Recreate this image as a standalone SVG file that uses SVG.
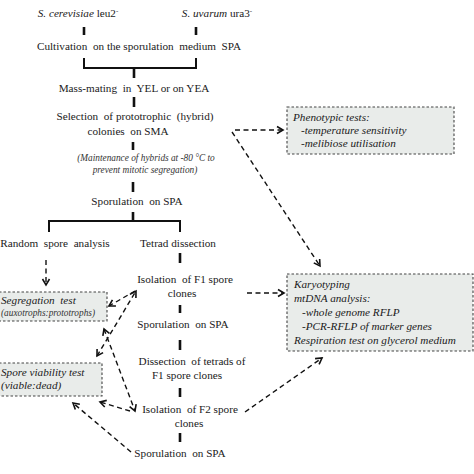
<svg xmlns="http://www.w3.org/2000/svg" width="474" height="474" viewBox="0 0 474 474">
<style>
text{white-space:pre}
.t{font-family:"Liberation Serif","Times New Roman",serif;font-size:11.2px;fill:#1a1a1a}
.m{text-anchor:middle}
.i{font-style:italic}
.s{font-family:"Liberation Serif","Times New Roman",serif;font-size:9.3px;font-style:italic;fill:#333}
.st{stroke:#111;stroke-width:2.6;fill:none}
.br{stroke:#111;stroke-width:2;fill:none}
.d{stroke:#111;stroke-width:1.4;fill:none;stroke-dasharray:5 3.5}
.box{fill:#e9ecea;stroke:#444;stroke-width:1.1;stroke-dasharray:2.5 2}
</style>
<defs>
<marker id="ah" markerUnits="userSpaceOnUse" markerWidth="10" markerHeight="10" refX="7" refY="4" orient="auto-start-reverse" viewBox="0 0 10 8">
<path d="M1,0.5 L7,4 L1,7.5" fill="none" stroke="#111" stroke-width="1.6"/>
</marker>
</defs>
<rect width="474" height="474" fill="#ffffff"/>

<g id="boxes">
<g id="phenotypic"><rect class="box" x="287" y="107" width="167" height="47"/>
<text class="t i" x="293" y="121">Phenotypic tests:</text>
<text class="t i" x="301" y="134">-temperature sensitivity</text>
<text class="t i" x="301" y="147">-melibiose utilisation</text></g>
<g id="karyotyping"><rect class="box" x="287" y="274" width="186" height="77"/>
<text class="t i" x="294" y="288">Karyotyping</text>
<text class="t i" x="294" y="302">mtDNA analysis:</text>
<text class="t i" x="302" y="316">-whole genome RFLP</text>
<text class="t i" x="302" y="330">-PCR-RFLP of marker genes</text>
<text class="t i" x="294" y="344">Respiration test on glycerol medium</text></g>
<g id="segregation"><rect class="box" x="-1" y="292" width="108" height="29"/>
<text class="t i" x="1" y="304">Segregation  test</text>
<text class="s" x="1" y="316">(auxotrophs:prototrophs)</text></g>
<g id="viability"><rect class="box" x="-1" y="363" width="103" height="33"/>
<text class="t i" x="1" y="376">Spore viability test</text>
<text class="t i" x="1" y="389">(viable:dead)</text></g>
</g>

<g id="nodes">
<g id="n-cerevisiae"><text class="t m" x="78" y="17"><tspan class="i">S. cerevisiae</tspan> leu2<tspan font-size="7" dy="-4">-</tspan></text></g>
<g id="n-uvarum"><text class="t m" x="217" y="17"><tspan class="i">S. uvarum</tspan> ura3<tspan font-size="7" dy="-4">-</tspan></text></g>
<g id="n-cultivation"><text class="t m" x="139" y="50">Cultivation  on the sporulation  medium  SPA</text></g>
<g id="n-massmating"><text class="t m" x="134" y="92">Mass-mating  in  YEL or on YEA</text></g>
<g id="n-selection"><text class="t m" x="135" y="120">Selection  of prototrophic  (hybrid)</text>
<text class="t m" x="128" y="135">colonies  on SMA</text></g>
<g id="n-maintenance"><text class="s m" x="146" y="161">(Maintenance of hybrids at -80 °C to</text>
<text class="s m" x="145" y="173">prevent mitotic segregation)</text></g>
<g id="n-sporulation1"><text class="t m" x="137" y="205">Sporulation  on SPA</text></g>
<g id="n-random"><text class="t m" x="55" y="247">Random  spore  analysis</text></g>
<g id="n-tetrad"><text class="t m" x="178" y="247">Tetrad dissection</text></g>
<g id="n-isolation1"><text class="t m" x="185" y="283">Isolation  of F1 spore</text>
<text class="t m" x="182" y="297">clones</text></g>
<g id="n-sporulation2"><text class="t m" x="183" y="328">Sporulation  on SPA</text></g>
<g id="n-dissection"><text class="t m" x="192" y="365">Dissection  of tetrads of</text>
<text class="t m" x="187" y="379">F1 spore clones</text></g>
<g id="n-isolation2"><text class="t m" x="190" y="413">Isolation  of F2 spore</text>
<text class="t m" x="189" y="427">clones</text></g>
<g id="n-sporulation3"><text class="t m" x="180" y="457">Sporulation  on SPA</text></g>
</g>

<g id="connectors">
<path class="st" d="M84,27V35M196,27V35"/>
<path class="br" d="M84,58V68H196V58"/>
<path class="st" d="M134,68V78M134,97V107M133,142V150M133,182V192M133,212V221"/>
<path class="br" d="M49,232V221H180V232"/>
<path class="st" d="M180,253V263M180,305V313M180,340V350M180,388V397M180,433V442"/>
<path class="d" d="M46,260V285" marker-end="url(#ah)"/>
<path class="d" d="M235,130H283" marker-end="url(#ah)"/>
<path class="d" d="M232,132L320,266" marker-end="url(#ah)"/>
<path class="d" d="M247,293H284" marker-end="url(#ah)"/>
<path class="d" d="M245,412L322,358" marker-end="url(#ah)"/>
<path class="d" d="M135,291L109,306" marker-end="url(#ah)"/>
<path class="d" d="M97,356L136,291" marker-start="url(#ah)" marker-end="url(#ah)"/>
<path class="d" d="M104,329L135,411" marker-start="url(#ah)" marker-end="url(#ah)"/>
<path class="d" d="M130,411L100,402" marker-end="url(#ah)"/>
<path class="d" d="M131,452L73,403" marker-end="url(#ah)"/>
</g>
</svg>
